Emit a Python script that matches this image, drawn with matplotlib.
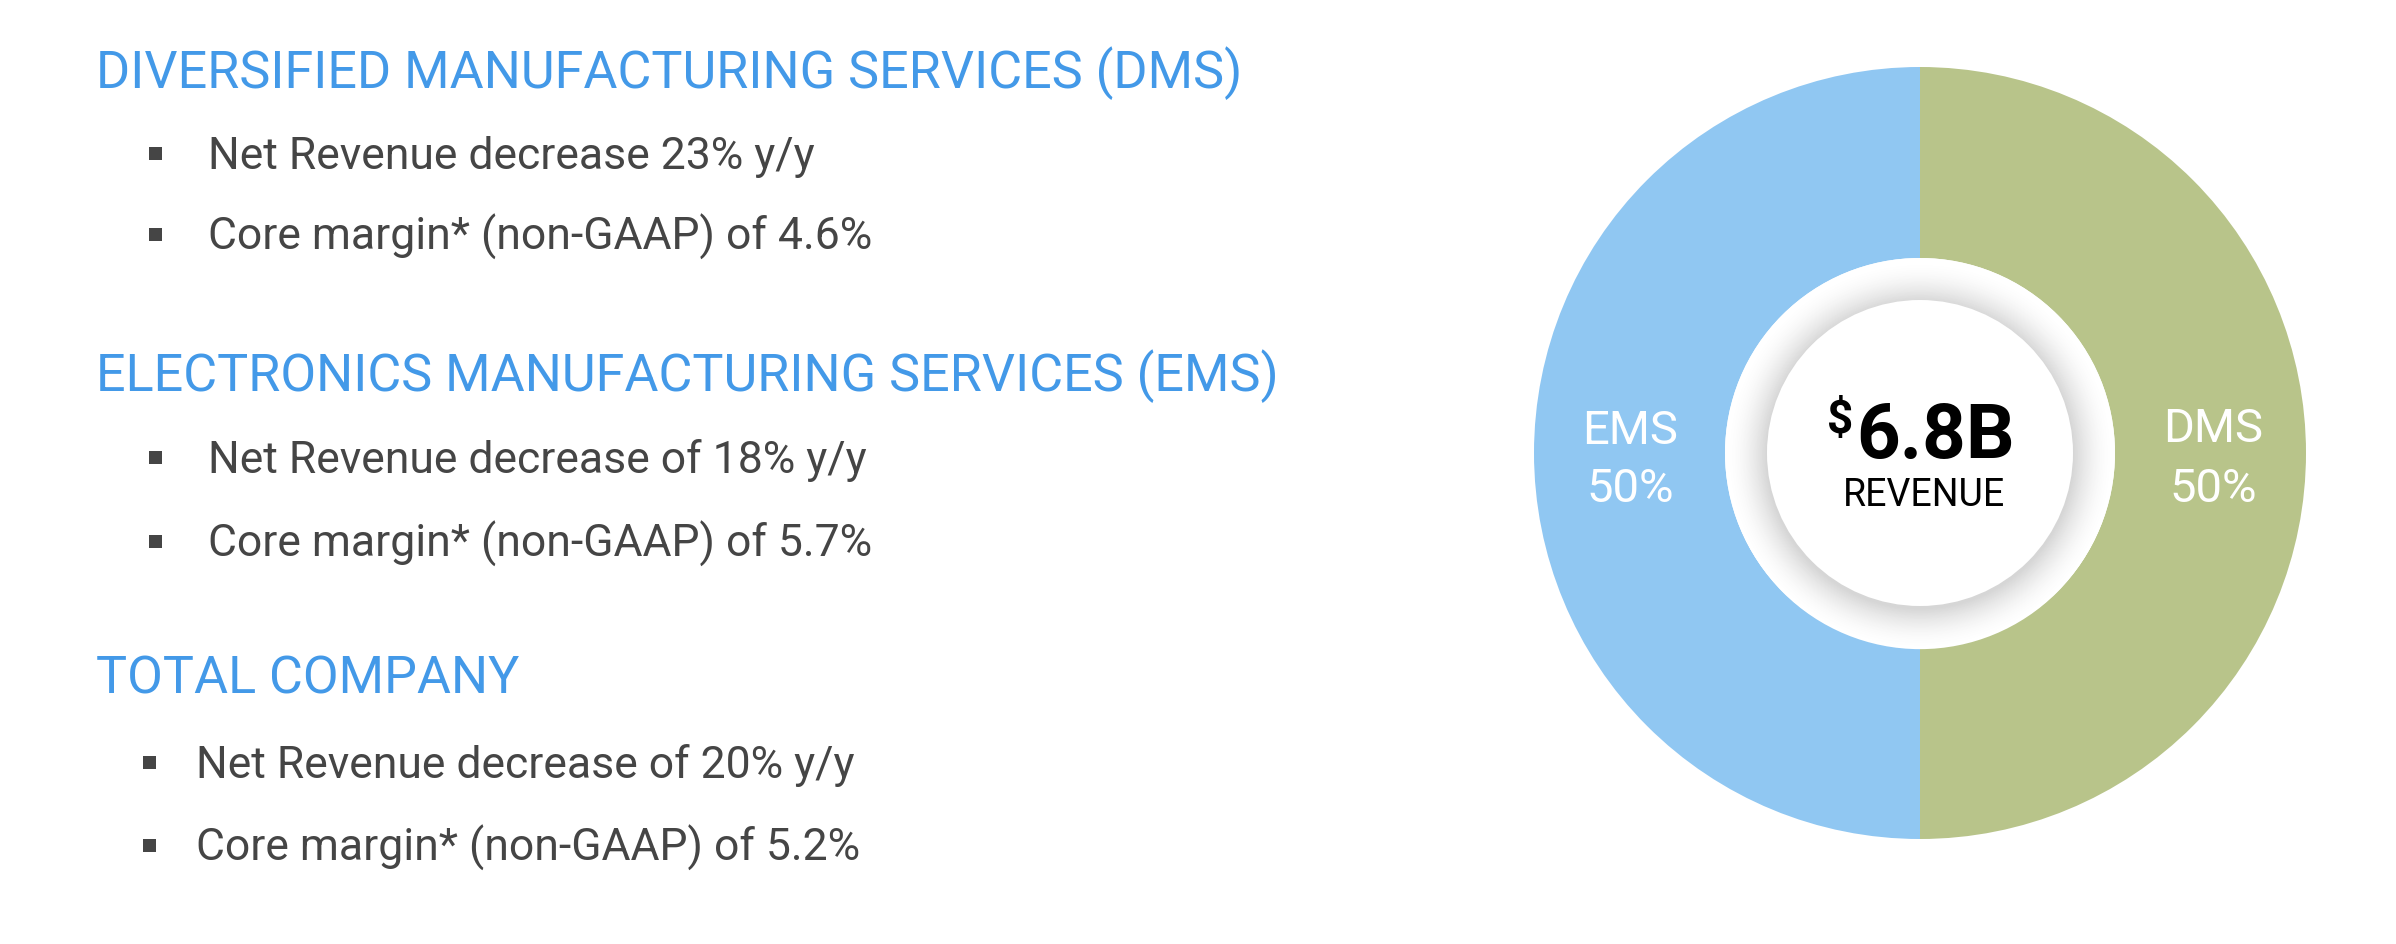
import matplotlib
matplotlib.use("Agg")
import matplotlib.pyplot as plt
import numpy as np
from matplotlib.patches import Circle, Rectangle

plt.rcParams['font.family'] = ['Roboto', 'DejaVu Sans']

# ---- data ----
segments = ["EMS", "DMS"]
shares = [50, 50]
seg_colors = ["#90C7F2", "#B8C48A"]
total_revenue = "6.8B"
center_caption = "REVENUE"

headings = ["DIVERSIFIED MANUFACTURING SERVICES (DMS)",
            "ELECTRONICS MANUFACTURING SERVICES (EMS)",
            "TOTAL COMPANY"]
bullets = [["Net Revenue decrease 23% y/y", "Core margin* (non-GAAP) of 4.6%"],
           ["Net Revenue decrease of 18% y/y", "Core margin* (non-GAAP) of 5.7%"],
           ["Net Revenue decrease of 20% y/y", "Core margin* (non-GAAP) of 5.2%"]]

W, H = 2396, 944
DPI = 100
fig = plt.figure(figsize=(W / DPI, H / DPI), dpi=DPI)
fig.patch.set_facecolor("white")

# overlay axes in pixel coordinates for the text block
tx = fig.add_axes([0, 0, 1, 1])
tx.set_xlim(0, W)
tx.set_ylim(H, 0)
tx.axis("off")

HEAD_COLOR = "#4399E8"
TEXT_COLOR = "#454545"
head_center = [70, 373, 675]
row_center = [[153, 234], [457, 541], [762, 845]]
text_x = [208, 208, 196]
bullet_x = [155, 155, 149]

for i, h in enumerate(headings):
    tx.text(96, head_center[i] + 18, h, fontsize=37.5, color=HEAD_COLOR,
            va="baseline", ha="left")
    for j, b in enumerate(bullets[i]):
        yc = row_center[i][j]
        tx.text(text_x[i], yc + 16, b, fontsize=32, color=TEXT_COLOR,
                va="baseline", ha="left")
        s = 13
        tx.add_patch(Rectangle((bullet_x[i] - s / 2, yc - s / 2), s, s,
                               facecolor=TEXT_COLOR, edgecolor="none"))

# ---- donut ----
cx, cy, R = 1920, 453, 386
ax = fig.add_axes([(cx - R) / W, 1 - (cy + R) / H, 2 * R / W, 2 * R / H])
ax.axis("off")
hole = 195 / 386
ax.pie(shares, colors=seg_colors, startangle=90, counterclock=True,
       radius=1.0, wedgeprops=dict(width=1 - hole, edgecolor="none"))
ax.set_xlim(-1, 1)
ax.set_ylim(-1, 1)

# white hole with soft shadow around inner disc
inner = 153 / 386
ax.add_patch(Circle((0, 0), hole, facecolor="white", edgecolor="none", zorder=3))
n = 50
for k in range(n):
    r = hole - 0.003 - (hole - 0.003 - inner) * k / n
    t = k / (n - 1)
    g = 1.0 - 0.16 * t ** 1.8
    ax.add_patch(Circle((0, -0.006), r, facecolor=(g, g, g), edgecolor="none", zorder=4))
ax.add_patch(Circle((0, 0), inner, facecolor="white", edgecolor="none", zorder=5))

# labels on segments
lab_x = [1630, 2213]
lab_y = [[427, 485], [424, 484]]
for i, seg in enumerate(segments):
    for line, yc in zip([seg, f"{shares[i]}%"], lab_y[i]):
        ax.text((lab_x[i] - cx) / R, (cy - yc) / R, line, color="white",
                fontsize=34, ha="center", va="center_baseline", zorder=6)

# center text
ax.text((1856 - cx) / R, (cy - 458) / R, total_revenue, fontsize=55,
        fontweight="bold", color="black", ha="left", va="baseline", zorder=6)
ax.text((1827 - cx) / R, (cy - 433) / R, "$", fontsize=33,
        fontweight="bold", color="black", ha="left", va="baseline", zorder=6)
ax.text((1924 - cx) / R, (cy - 506) / R, center_caption, fontsize=27,
        color="black", ha="center", va="baseline", zorder=6)

fig.savefig("out.png", dpi=DPI, facecolor="white")
